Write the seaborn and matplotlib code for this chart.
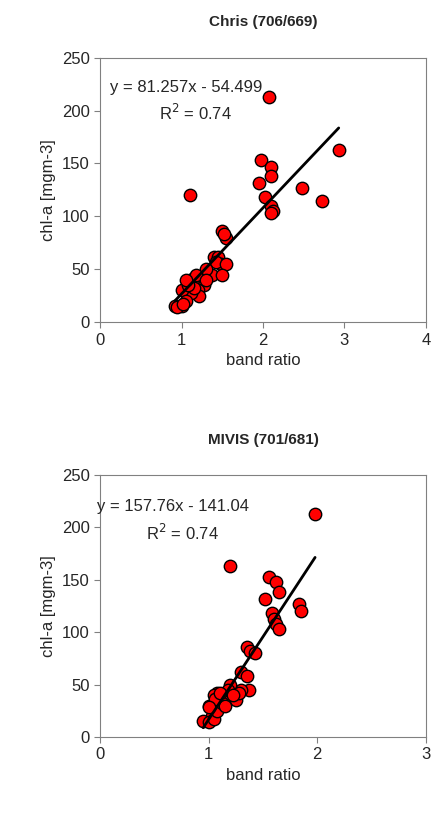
import numpy as np
import matplotlib
matplotlib.use("Agg")
import matplotlib.pyplot as plt
import seaborn as sns

sns.set_style("white")
plt.rcParams['font.family'] = ['Liberation Sans', 'DejaVu Sans']

# Chris (706/669)
chris_x = [2.08, 2.93, 1.98, 2.10, 2.10, 1.95, 2.48, 2.02, 2.72, 2.10, 2.12, 2.10,
           1.10, 1.50, 1.55, 1.52, 1.40, 1.45, 1.48, 1.42, 1.55, 1.38, 1.50, 1.30,
           1.20, 1.15, 1.10, 1.10, 1.20, 1.25, 1.28, 1.20, 1.22, 1.12, 1.00, 1.05,
           1.00, 0.92, 0.95, 1.02, 1.15, 1.18, 1.08, 1.30, 1.05]
chris_y = [213, 163, 153, 147, 138, 132, 127, 118, 115, 110, 105, 103,
           120, 86, 80, 83, 62, 62, 55, 57, 55, 45, 45, 50,
           42, 42, 40, 35, 38, 38, 35, 30, 25, 28, 30, 20,
           15, 15, 14, 17, 32, 45, 35, 40, 40]
chris_fit = (81.257, -54.499)

# MIVIS (701/681)
mivis_x = [1.98, 1.20, 1.56, 1.62, 1.65, 1.52, 1.83, 1.85, 1.58, 1.60, 1.62, 1.65,
           1.35, 1.38, 1.43, 1.30, 1.35, 1.37, 1.30, 1.20, 1.15, 1.08, 1.05, 1.10,
           1.20, 1.25, 1.28, 1.00, 1.03, 0.95, 1.00, 1.05, 1.08, 1.12, 1.18, 1.22,
           1.06, 1.15, 1.10, 1.00]
mivis_y = [213, 163, 153, 148, 138, 132, 127, 120, 118, 113, 108, 103,
           86, 82, 80, 62, 58, 45, 45, 50, 40, 42, 40, 35,
           38, 35, 42, 30, 20, 15, 14, 17, 25, 32, 45, 40,
           36, 30, 42, 29]
mivis_fit = (157.76, -141.04)

fig = plt.figure(figsize=(4.35, 8.24), dpi=100)
ax1 = fig.add_axes([0.23, 0.609, 0.749, 0.321])
ax2 = fig.add_axes([0.23, 0.1056, 0.749, 0.318])

panels = [
    (ax1, chris_x, chris_y, chris_fit, "Chris (706/669)", 4, "y = 81.257x - 54.499",
     (0.03, 0.886), (0.18, 0.79)),
    (ax2, mivis_x, mivis_y, mivis_fit, "MIVIS (701/681)", 3, "y = 157.76x - 141.04",
     (-0.01, 0.88), (0.14, 0.78)),
]

for ax, xs, ys, fit, title, xmax, eq, p_eq, p_r2 in panels:
    sns.scatterplot(x=xs, y=ys, ax=ax, color='red', edgecolor='black',
                    linewidth=1, s=80, zorder=3)
    xl = np.array([min(xs), max(xs)])
    ax.plot(xl, fit[0] * xl + fit[1], color='black', lw=2, zorder=4)
    ax.set_xlim(0, xmax)
    ax.set_ylim(0, 250)
    ax.set_xticks(range(0, xmax + 1))
    ax.set_yticks(range(0, 251, 50))
    ax.set_xlabel("band ratio", fontsize=12)
    ax.set_ylabel("chl-a [mgm-3]", fontsize=12)
    ax.text(0.5, 1.135, title, transform=ax.transAxes, fontsize=11,
            fontweight='bold', ha='center', va='center')
    ax.tick_params(labelsize=12, direction='out', length=4, color='gray',
                   left=True, bottom=True)
    for sp in ax.spines.values():
        sp.set_color('gray')
    ax.text(p_eq[0], p_eq[1], eq, transform=ax.transAxes, fontsize=12, va='center')
    ax.text(p_r2[0], p_r2[1], "R$^2$ = 0.74", transform=ax.transAxes, fontsize=12,
            va='center')

fig.savefig("out.png", dpi=100)
